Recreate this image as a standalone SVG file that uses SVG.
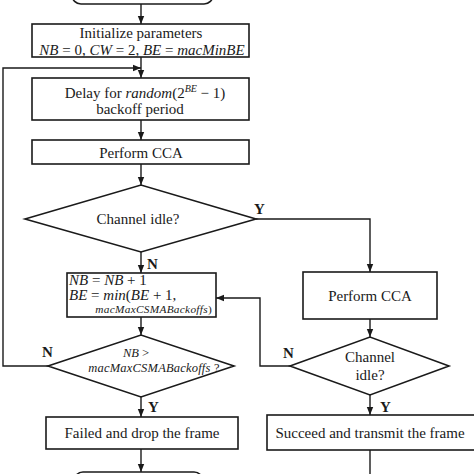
<svg xmlns="http://www.w3.org/2000/svg" width="474" height="474" viewBox="0 0 474 474">
<style>
.box{fill:#fff;stroke:#1a1a1a;stroke-width:1.6}
.ln{fill:none;stroke:#1a1a1a;stroke-width:1.4}
.t{font-family:"Liberation Serif","Times New Roman",serif;font-size:15px;fill:#1a1a1a}
.m{font-family:"Liberation Serif","Times New Roman",serif;font-style:italic;fill:#1a1a1a}
.lb{font-family:"Liberation Serif","Times New Roman",serif;font-size:15px;font-weight:bold;fill:#1a1a1a}
</style>
<defs>
<marker id="ah" markerUnits="userSpaceOnUse" markerWidth="8" markerHeight="8" viewBox="0 0 8 8" refX="8" refY="4" orient="auto">
<path d="M0,0.8 L8,4 L0,7.2 Z" fill="#1a1a1a"/>
</marker>
</defs>
<g id="connectors">
<line class="ln" x1="141" y1="4" x2="141" y2="24" marker-end="url(#ah)"/>
<line class="ln" x1="141" y1="57" x2="141" y2="78" marker-end="url(#ah)"/>
<polyline class="ln" points="48,366 3,366 3,68 141,68" marker-end="url(#ah)"/>
<line class="ln" x1="141" y1="120" x2="141" y2="140" marker-end="url(#ah)"/>
<line class="ln" x1="141" y1="164" x2="141" y2="185" marker-end="url(#ah)"/>
<line class="ln" x1="141" y1="252" x2="141" y2="273" marker-end="url(#ah)"/>
<polyline class="ln" points="256,219 370,219 370,272" marker-end="url(#ah)"/>
<line class="ln" x1="141" y1="317" x2="141" y2="335" marker-end="url(#ah)"/>
<line class="ln" x1="370" y1="319" x2="370" y2="337" marker-end="url(#ah)"/>
<polyline class="ln" points="290,366 260,366 260,298 216,298" marker-end="url(#ah)"/>
<line class="ln" x1="141" y1="397" x2="141" y2="417" marker-end="url(#ah)"/>
<line class="ln" x1="370" y1="395" x2="370" y2="415" marker-end="url(#ah)"/>
<line class="ln" x1="141" y1="449" x2="141" y2="472" marker-end="url(#ah)"/>
<line class="ln" x1="370" y1="450" x2="370" y2="474"/>
</g>
<g id="start">
<rect class="box" x="72" y="-30" width="141" height="34" rx="9"/>
</g>
<g id="init">
<rect class="box" x="32" y="24" width="217" height="33"/>
<text class="t" x="141" y="38" text-anchor="middle">Initialize parameters</text>
<text class="t" x="142" y="54.5" text-anchor="middle" font-size="14.3"><tspan class="m">NB</tspan> = 0, <tspan class="m">CW</tspan> = 2, <tspan class="m">BE</tspan> = <tspan class="m">macMinBE</tspan></text>
</g>
<g id="delay">
<rect class="box" x="32" y="78" width="217" height="42"/>
<text class="t" x="145" y="98" text-anchor="middle">Delay for <tspan class="m">random</tspan>(2<tspan class="m" font-size="10" dy="-6">BE</tspan><tspan dy="6"> − 1)</tspan></text>
<text class="t" x="140" y="114" text-anchor="middle">backoff period</text>
</g>
<g id="cca1">
<rect class="box" x="32" y="140" width="217" height="24"/>
<text class="t" x="141" y="158" text-anchor="middle">Perform CCA</text>
</g>
<g id="idle1">
<polygon class="box" points="25,219 141,185 256,219 141,252"/>
<text class="t" x="138" y="224" text-anchor="middle">Channel idle?</text>
</g>
<g id="nb">
<rect class="box" x="67" y="273" width="149" height="44"/>
<text class="t" x="69" y="285" font-size="13.5"><tspan class="m">NB</tspan> = <tspan class="m">NB</tspan> + 1</text>
<text class="t" x="69" y="300" font-size="12.5"><tspan class="m">BE</tspan> = <tspan class="m">min</tspan>(<tspan class="m">BE</tspan> + 1,</text>
<text class="m" x="212" y="313" font-size="11.3" text-anchor="end" letter-spacing="0.3">macMaxCSMABackoffs<tspan font-style="normal">)</tspan></text>
</g>
<g id="check">
<polygon class="box" points="48,366 141,335 234,366 141,397"/>
<text class="m" x="136" y="357" font-size="12.5" text-anchor="middle">NB <tspan font-style="normal">&gt;</tspan></text>
<text class="m" x="154" y="372" font-size="12.5" text-anchor="middle" letter-spacing="0.2">macMaxCSMABackoffs <tspan font-style="normal">?</tspan></text>
</g>
<g id="failed">
<rect class="box" x="46" y="417" width="192" height="32"/>
<text class="t" x="142" y="438" text-anchor="middle">Failed and drop the frame</text>
</g>
<g id="end">
<rect class="box" x="74" y="472" width="129" height="30" rx="9"/>
</g>
<g id="cca2">
<rect class="box" x="303" y="272" width="134" height="47"/>
<text class="t" x="370" y="301" text-anchor="middle">Perform CCA</text>
</g>
<g id="idle2">
<polygon class="box" points="290,366 370,337 449,366 370,395"/>
<text class="t" x="370" y="362" text-anchor="middle">Channel</text>
<text class="t" x="370" y="380" text-anchor="middle">idle?</text>
</g>
<g id="succeed">
<rect class="box" x="267" y="415" width="210" height="35"/>
<text class="t" x="370" y="438" text-anchor="middle">Succeed and transmit the frame</text>
</g>
<g id="labels">
<text class="lb" x="254" y="214">Y</text>
<text class="lb" x="147" y="269">N</text>
<text class="lb" x="42" y="357">N</text>
<text class="lb" x="148" y="412">Y</text>
<text class="lb" x="283" y="358">N</text>
<text class="lb" x="380" y="412">Y</text>
</g>
</svg>
